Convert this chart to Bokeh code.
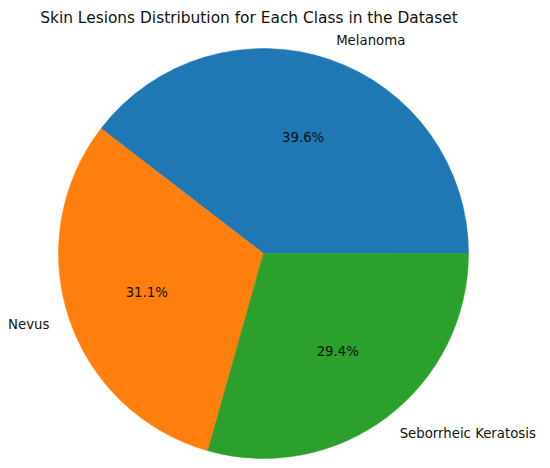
import numpy as np
from bokeh.plotting import figure
from bokeh.models import ColumnDataSource
from bokeh.core.properties import value
from bokeh.embed import file_html
from bokeh.resources import INLINE

labels = ["Melanoma", "Nevus", "Seborrheic Keratosis"]
percents = [39.6, 31.1, 29.4]
colors = ["#1f77b4", "#ff7f0e", "#2ca02c"]
title_text = "Skin Lesions Distribution for Each Class in the Dataset"

W, H = 542, 460
cx, cy, R = 263, H - 253, 205

vals = np.array(percents, dtype=float)
frac = vals / vals.sum()
ends = np.cumsum(frac) * 2 * np.pi
starts = ends - frac * 2 * np.pi
mids = (starts + ends) / 2

src = ColumnDataSource(dict(start=starts, end=ends, color=colors))

p = figure(width=W, height=H, x_range=(0, W), y_range=(0, H),
           output_backend="svg", toolbar_location=None,
           min_border=0, outline_line_color=None)
p.axis.visible = False
p.grid.visible = False
p.background_fill_color = "white"

p.wedge(x=cx, y=cy, radius=R, start_angle="start", end_angle="end",
        fill_color="color", line_color="color", line_width=0.5, source=src)

lx = cx + 1.1 * R * np.cos(mids)
ly = cy + 1.1 * R * np.sin(mids)
align = ["left" if np.cos(m) >= 0 else "right" for m in mids]
lsrc = ColumnDataSource(dict(x=lx, y=ly, t=labels, a=align))
p.text(x="x", y="y", text="t", text_align="a", text_baseline="middle",
       text_font=value("DejaVu Sans"), text_font_size="13.3px",
       text_color="#111111", source=lsrc)

px = cx + 0.6 * R * np.cos(mids)
py = cy + 0.6 * R * np.sin(mids)
pct_txt = ["%.1f%%" % (f * 100) for f in frac]
psrc = ColumnDataSource(dict(x=px, y=py, t=pct_txt))
p.text(x="x", y="y", text="t", text_align="center", text_baseline="middle",
       text_font=value("DejaVu Sans"), text_font_size="13.3px",
       text_color="#111111", source=psrc)

p.text(x=[248.5], y=[H - 17], text=[title_text], text_align="center",
       text_baseline="middle", text_font=value("DejaVu Sans"),
       text_font_size="15.4px", text_color="#111111")

open("out.html", "w").write(file_html(p, INLINE))
